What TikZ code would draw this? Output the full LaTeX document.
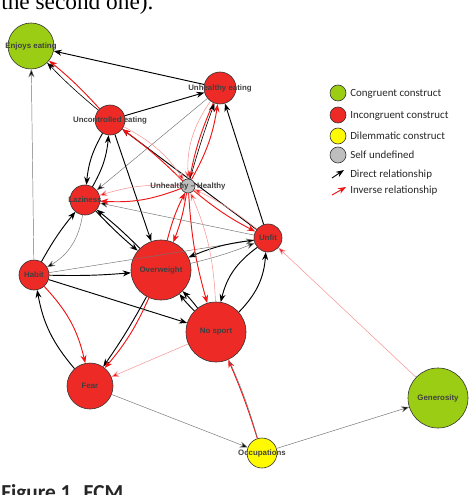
\documentclass[tikz,border=0pt]{standalone}
\usepackage{fontspec}
\setmainfont{Liberation Sans}
\newfontfamily\legendfont{Carlito}
\newfontfamily\pagefont{Liberation Serif}
\usetikzlibrary{arrows.meta}

\definecolor{congruentgreen}{RGB}{155,205,20}
\definecolor{incongruentred}{RGB}{238,42,38}
\definecolor{dilemmayellow}{RGB}{255,250,0}
\definecolor{selfgrey}{RGB}{190,190,190}
\definecolor{inversered}{RGB}{240,20,20}

\newcommand{\conlabel}{\fontsize{5.9}{6.4}\selectfont\bfseries\color{black!75}}

\tikzset{
  construct/.style={circle,draw=black!80,line width=0.45pt,inner sep=0pt,minimum size=#1*1.5pt},
  congruent/.style={construct=#1,fill=congruentgreen},
  incongruent/.style={construct=#1,fill=incongruentred},
  dilemmatic/.style={construct=#1,fill=dilemmayellow},
  undefinedself/.style={construct=#1,fill=selfgrey},
  direct/.style={draw=black,line width=0.7pt,-{Stealth[length=6pt,width=4.5pt]}},
  directweak/.style={draw=black!55,line width=0.35pt,-{Stealth[length=6pt,width=4.5pt,fill=black]}},
  inverse/.style={draw=inversered,line width=0.7pt,-{Stealth[length=6pt,width=4.5pt]}},
  inverseweak/.style={draw=inversered!45,line width=0.4pt,-{Stealth[length=6pt,width=4.5pt,fill=inversered]}},
  legendtext/.style={anchor=base west,inner sep=0pt,font=\legendfont\fontsize{8.2}{9}\selectfont,text=black!85}
}

\begin{document}
\begin{tikzpicture}[x=0.75pt,y=0.75pt,yscale=-1,xscale=1]
\useasboundingbox (0,0) rectangle (474,495);

% page text cut by the figure
\node[anchor=base west,inner sep=0pt,font=\pagefont\fontsize{17.5}{19}\selectfont] (pagetop) at (1,10) {the second one).};
\node[anchor=base west,inner sep=0pt,font=\legendfont\fontsize{16}{17}\selectfont\bfseries,text=black!85] (caption) at (1,499) {Figure 1. FCM};

% constructs
\node[congruent=23,label={center:\conlabel Enjoys eating}] (enjoys) at (31,46) {};
\node[incongruent=16,label={center:\conlabel Unhealthy eating}] (unheating) at (220,88) {};
\node[incongruent=15,label={center:\conlabel Uncontrolled eating}] (uncontrolled) at (110,120) {};
\node[incongruent=15,label={center:\conlabel Laziness}] (laziness) at (85,200) {};
\node[incongruent=14,label={center:\conlabel Unfit}] (unfit) at (268,238) {};
\node[incongruent=15,label={center:\conlabel Habit}] (habit) at (34,275) {};
\node[incongruent=30,label={center:\conlabel Overweight}] (overweight) at (161,270) {};
\node[incongruent=30,label={center:\conlabel No sport}] (nosport) at (216,332) {};
\node[incongruent=23,label={center:\conlabel Fear}] (fear) at (90,386) {};
\node[dilemmatic=15,label={center:\conlabel Occupations}] (occupations) at (262,453) {};
\node[congruent=30,label={center:\conlabel Generosity}] (generosity) at (438,398) {};

% connectors
\draw[direct] (unheating) -- (enjoys);
\draw[direct] (uncontrolled) -- (unheating);
\draw[inverse] (uncontrolled) to[bend left=4] (enjoys);
\draw[direct,line width=0.45pt] (uncontrolled) to[bend right=3] (enjoys);
\draw[directweak] (habit) -- (enjoys);
\draw[directweak] (unheating) -- (laziness);
\draw[direct] (uncontrolled) to[bend left=12] (laziness);
\draw[direct] (laziness) to[bend left=12] (uncontrolled);
\draw[direct] (uncontrolled) -- (overweight);
\draw[direct] (unfit) -- (uncontrolled);
\draw[direct] (unfit) -- (unheating);
\draw[direct] (laziness) to[bend left=3] (overweight);
\draw[direct] (overweight) to[bend left=3] (laziness);
\draw[direct] (habit) to[bend right=5] (laziness);
\draw[directweak] (laziness) to[bend right=25] (habit);
\draw[direct] (habit) to[bend left=3] (overweight);
\draw[directweak] (habit) -- (unfit);
\draw[direct] (habit) -- (nosport);
\draw[inverse] (habit) to[bend right=15] (fear);
\draw[direct] (fear) to[bend right=15] (habit);
\draw[direct] (overweight) to[bend right=3] (fear);
\draw[inverse] (overweight) to[bend right=8] (fear);
\draw[inverseweak] (nosport) -- (fear);
\draw[directweak] (fear) -- (occupations);
\draw[inverse] (occupations) to[bend left=3] (nosport);
\draw[directweak,-] (nosport) to[bend right=4] (occupations);
\draw[directweak] (occupations) -- (generosity);
\draw[inverseweak] (generosity) -- (unfit);
\draw[direct] (unfit) to[bend left=20] (nosport);
\draw[direct] (nosport) to[bend left=20] (unfit);
\draw[direct] (unfit) to[bend left=8] (overweight);
\draw[directweak] (overweight) to[bend left=4] (unfit);
\draw[direct] (nosport) to[bend left=4] (overweight);
\draw[direct] (nosport) to[bend right=4] (overweight);
\draw[directweak] (unfit) -- (laziness);

% self undefined construct, drawn on top of its arrows
\node[undefinedself=7] (unhhealthy) at (188,186) {};
\draw[inverse] (unhhealthy) to[bend left=10] (unheating);
\draw[inverseweak] (unheating) to[bend left=18] (unhhealthy);
\draw[inverse] (unheating) to[bend left=6] (unhhealthy);
\draw[direct,line width=0.45pt] (unhhealthy) to[bend right=2] (unheating);
\draw[inverse] (unhhealthy) to[bend left=4] (uncontrolled);
\draw[inverseweak] (uncontrolled) to[bend right=14] (unhhealthy);
\draw[inverse] (unhhealthy) to[bend right=12] (laziness);
\draw[inverseweak] (unhhealthy) to[bend left=10] (laziness);
\draw[inverse] (unhhealthy) to[bend right=6] (overweight);
\draw[inverse] (overweight) to[bend right=6] (unhhealthy);
\draw[inverse] (unhhealthy) to[bend left=6] (nosport);
\draw[inverseweak] (nosport) to[bend left=10] (unhhealthy);
\draw[inverse] (unhhealthy) to[bend left=6] (unfit);
\draw[inverseweak] (unfit) to[bend left=6] (unhhealthy);
\node[label={center:\conlabel Unhealthy -- Healthy}] (uhlabel) at (unhhealthy) {};

% legend
\node[congruent=8] (legcong) at (338,93) {};
\node[incongruent=8] (leginc) at (338,115) {};
\node[dilemmatic=8] (legdil) at (338,136) {};
\node[undefinedself=8] (legself) at (338,155) {};
\coordinate (legdirA) at (332,178);
\coordinate (legdirB) at (344,170);
\coordinate (leginvA) at (332,195);
\coordinate (leginvB) at (346,187);
\draw[direct] (legdirA) -- (legdirB);
\draw[inverse] (leginvA) -- (leginvB);
\node[legendtext] (txtcong) at (350,97) {Congruent construct};
\node[legendtext] (txtinc) at (350,118.5) {Incongruent construct};
\node[legendtext] (txtdil) at (350,139.5) {Dilemmatic construct};
\node[legendtext] (txtself) at (350,158.5) {Self undefined};
\node[legendtext] (txtdir) at (350,177) {Direct relationship};
\node[legendtext] (txtinv) at (350,194) {Inverse relationship};

\end{tikzpicture}
\end{document}
